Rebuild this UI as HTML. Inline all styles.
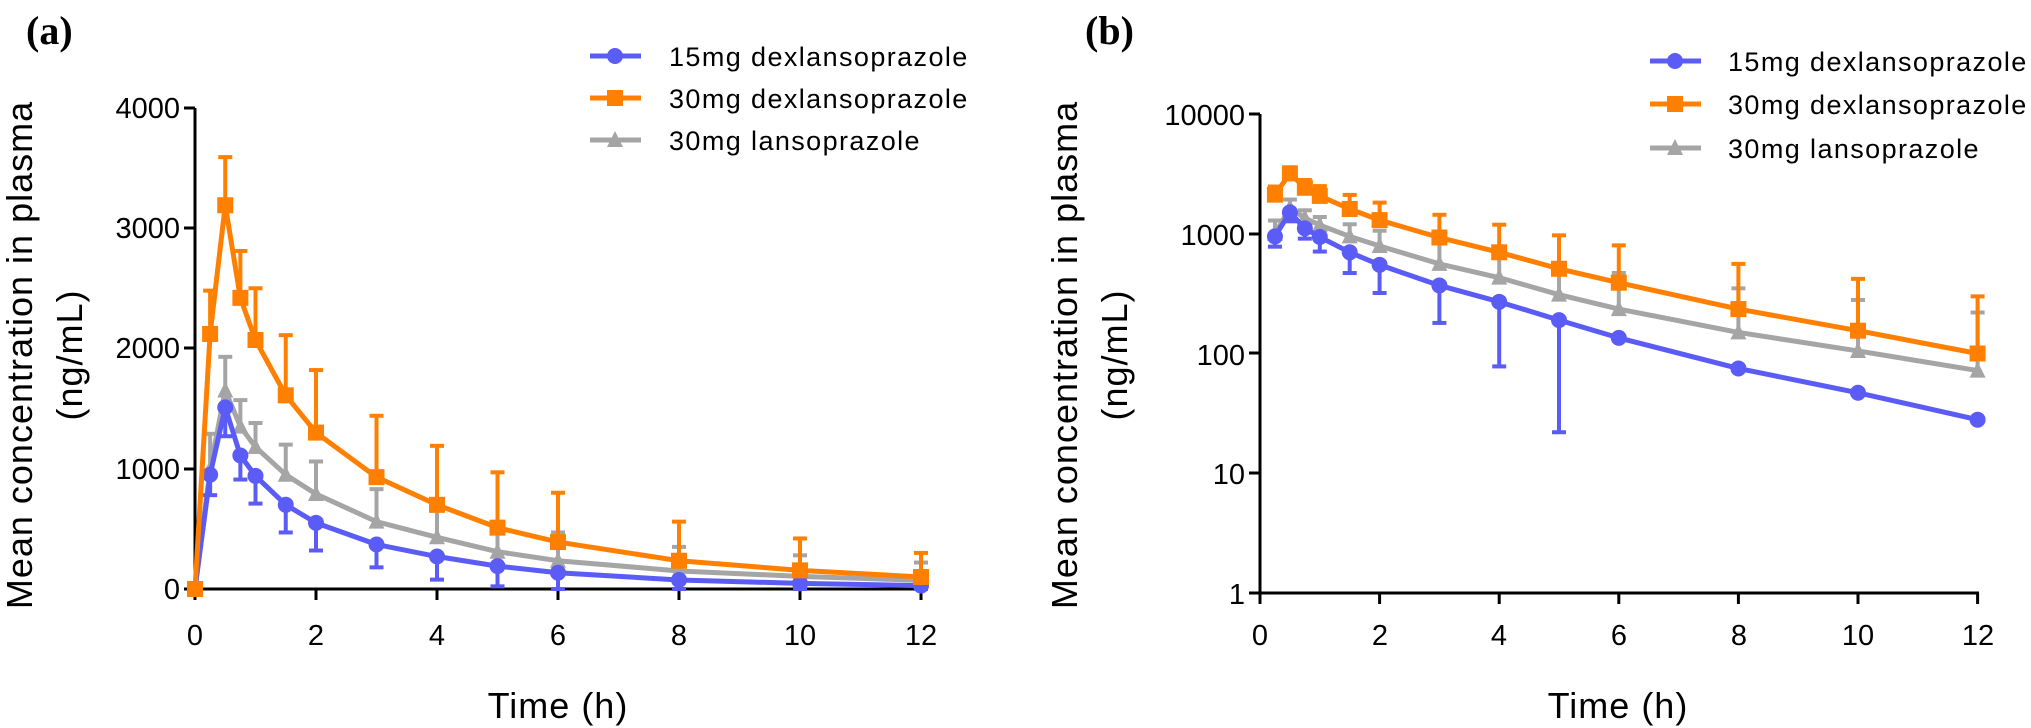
<!DOCTYPE html>
<html><head><meta charset="utf-8"><style>
body{margin:0;background:#fff;width:2031px;height:728px;overflow:hidden}
svg{display:block}
text{font-family:"Liberation Sans",Arial,sans-serif;fill:#000}
.tk{font-size:29px}
.lg{font-size:27px;letter-spacing:1.4px}
.tt{font-size:36px;letter-spacing:1px}
.lb{font-family:"Liberation Serif",serif;font-weight:bold;font-size:40px}
</style></head><body>
<svg id="s" width="2031" height="728" xmlns="http://www.w3.org/2000/svg">
<g id="plot"></g>
<text class="lb" x="26" y="44">(a)</text>
<g class="tk" text-anchor="end">
<text x="180" y="599">0</text><text x="180" y="479">1000</text><text x="180" y="358">2000</text><text x="180" y="238">3000</text><text x="180" y="118">4000</text>
</g>
<g class="tk" text-anchor="middle">
<text x="195" y="645">0</text><text x="316" y="645">2</text><text x="437" y="645">4</text><text x="558" y="645">6</text><text x="679" y="645">8</text><text x="800" y="645">10</text><text x="921" y="645">12</text>
</g>
<text class="tt" text-anchor="middle" x="558" y="718">Time (h)</text>
<text class="tt" text-anchor="middle" transform="translate(32,355) rotate(-90)">Mean concentration in plasma</text>
<text class="tt" text-anchor="middle" transform="translate(82,355) rotate(-90)">(ng/mL)</text>
<text class="lg" x="669" y="66">15mg dexlansoprazole</text>
<text class="lg" x="669" y="108">30mg dexlansoprazole</text>
<text class="lg" x="669" y="150">30mg lansoprazole</text>
<text class="lb" x="1085" y="44">(b)</text>
<g class="tk" text-anchor="end">
<text x="1245" y="604">1</text><text x="1245" y="484">10</text><text x="1245" y="365">100</text><text x="1245" y="245">1000</text><text x="1245" y="125">10000</text>
</g>
<g class="tk" text-anchor="middle">
<text x="1260" y="645">0</text><text x="1380" y="645">2</text><text x="1499" y="645">4</text><text x="1619" y="645">6</text><text x="1739" y="645">8</text><text x="1858" y="645">10</text><text x="1978" y="645">12</text>
</g>
<text class="tt" text-anchor="middle" x="1618" y="718">Time (h)</text>
<text class="tt" text-anchor="middle" transform="translate(1077,355) rotate(-90)">Mean concentration in plasma</text>
<text class="tt" text-anchor="middle" transform="translate(1127,355) rotate(-90)">(ng/mL)</text>
<text class="lg" x="1728" y="71">15mg dexlansoprazole</text>
<text class="lg" x="1728" y="114">30mg dexlansoprazole</text>
<text class="lg" x="1728" y="158">30mg lansoprazole</text>
</svg>
<script>
var NS="http://www.w3.org/2000/svg",g=document.getElementById("plot");
function el(t,a){var e=document.createElementNS(NS,t);for(var k in a)e.setAttribute(k,a[k]);g.appendChild(e);return e;}
var T=[0,0.25,0.5,0.75,1,1.5,2,3,4,5,6,8,10,12];
var B=[0,950,1510,1110,940,700,550,370,270,190,135,75,47,28],
    Bl=[0,780,1270,910,710,470,320,180,78,22,0,0,0,0];
var O=[0,2120,3190,2420,2070,1610,1300,930,700,510,390,235,155,100],
    Ou=[0,2480,3590,2810,2500,2110,1820,1440,1190,970,800,560,420,300];
var G=[0,1000,1650,1350,1180,950,790,560,430,310,235,150,105,72],
    Gu=[0,1290,1930,1570,1380,1200,1060,830,650,500,470,350,280,220];
var C={b:"#5b5bf5",o:"#ff8000",g:"#a5a5a5"};
function marker(x,y,c,k){
 if(k=="b")el("circle",{cx:x,cy:y,r:8,fill:c});
 else if(k=="o")el("rect",{x:x-8,y:y-8,width:16,height:16,fill:c});
 else el("polygon",{points:(x-8)+","+(y+7)+" "+(x+8)+","+(y+7)+" "+x+","+(y-9),fill:c});
}
function series(X,Y,vals,err,c,k,start,log){
 var pts=[];
 for(var i=start;i<T.length;i++){
  var x=X(T[i]),y=Y(vals[i]);pts.push(x+","+y);
  var e=err[i];
  if(i>0&&(log?e>0:true)&&e!=vals[i]){
   var ye=Y(log?Math.max(e,1):e);
   el("line",{x1:x,y1:y,x2:x,y2:ye,stroke:c,"stroke-width":4});
   el("line",{x1:x-7,y1:ye,x2:x+7,y2:ye,stroke:c,"stroke-width":4});
  }
 }
 el("polyline",{points:pts.join(" "),fill:"none",stroke:c,"stroke-width":5,"stroke-linejoin":"round"});
 for(var i=start;i<T.length;i++)marker(X(T[i]),Y(vals[i]),c,k);
}
function axes(x0,y0,x1,y1,yt,xt){
 el("line",{x1:x0,y1:y0+1,x2:x0,y2:y1,stroke:"#000","stroke-width":3});
 el("line",{x1:x0-1,y1:y0,x2:x1+1,y2:y0,stroke:"#000","stroke-width":3});
 yt.forEach(function(y){el("line",{x1:x0-11,y1:y,x2:x0,y2:y,stroke:"#000","stroke-width":3});});
 xt.forEach(function(x){el("line",{x1:x,y1:y0,x2:x,y2:y0+11,stroke:"#000","stroke-width":3});});
}
function legend(x,ys){
 [["b",ys[0]],["o",ys[1]],["g",ys[2]]].forEach(function(a){
  el("line",{x1:x,y1:a[1],x2:x+51,y2:a[1],stroke:C[a[0]],"stroke-width":5});
  marker(x+25,a[1],C[a[0]],a[0]);
 });
}
var Xa=function(t){return 195+t*60.5},Ya=function(v){return 589-v*0.1203};
axes(195,589,921,108,[589,469,348,228,108],[0,2,4,6,8,10,12].map(Xa));
series(Xa,Ya,G,Gu,C.g,"g",0,false);
series(Xa,Ya,B,Bl,C.b,"b",0,false);
series(Xa,Ya,O,Ou,C.o,"o",0,false);
legend(590,[56,98,140]);
var Xb=function(t){return 1260+t*59.8},Yb=function(v){return 593-Math.log10(v)*119.75};
axes(1260,593,1978,114,[593,473,353,234,114],[0,2,4,6,8,10,12].map(Xb));
series(Xb,Yb,G,Gu,C.g,"g",1,true);
series(Xb,Yb,B,Bl,C.b,"b",1,true);
series(Xb,Yb,O,Ou,C.o,"o",1,true);
legend(1650,[61,104,148]);
</script>
</body></html>
